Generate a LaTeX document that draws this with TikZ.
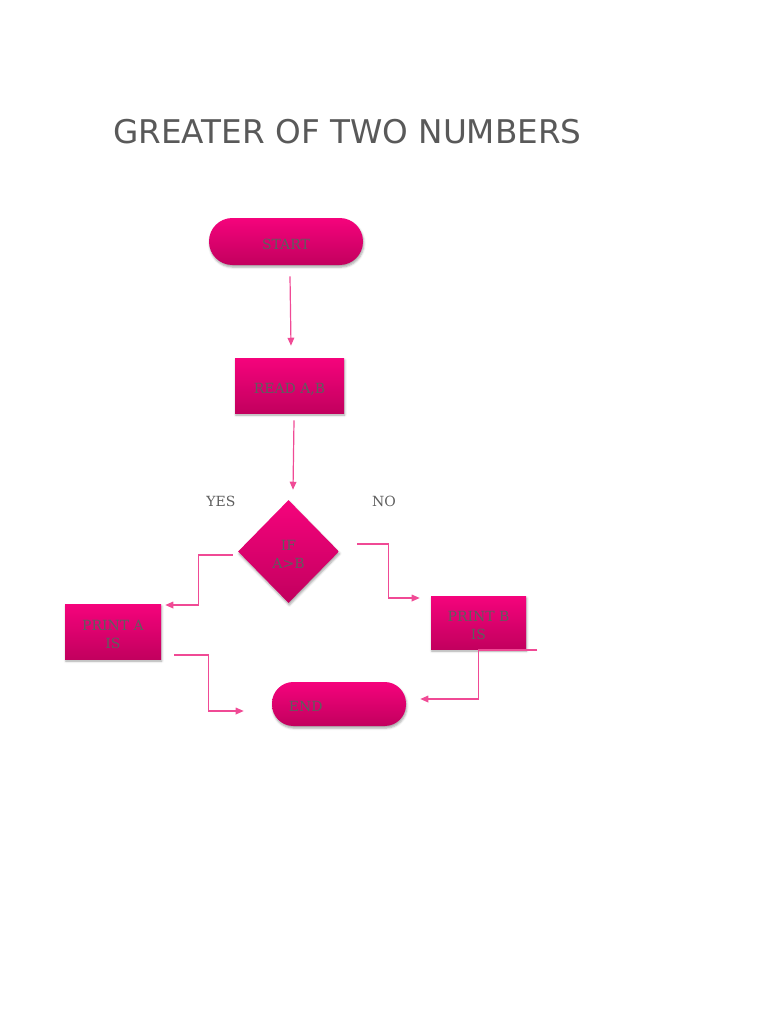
\documentclass[tikz,border=0pt]{standalone}
\usepackage{fontspec}
\setmainfont{DejaVu Serif}
\newfontfamily\titlefont{DejaVu Sans}
\usetikzlibrary{shapes.geometric,arrows.meta,shadows.blur}
\definecolor{topc}{HTML}{F5037C}
\definecolor{botc}{HTML}{C2005E}
\definecolor{txtc}{HTML}{5E5E5E}
\definecolor{linec}{HTML}{F04A95}
\definecolor{titlec}{HTML}{595959}
\newcommand\lowtext[1]{\raisebox{-3pt}[\height][\depth]{\begin{tabular}{@{}c@{}}#1\end{tabular}}}
\tikzset{
  boxfill/.style={top color=topc, bottom color=botc, draw=none,
    blur shadow={shadow xshift=0.6pt, shadow yshift=-1.6pt, shadow opacity=35, shadow blur radius=1.6pt},
    text=txtc, font=\fontsize{10.5}{13.5}\selectfont, inner sep=0pt},
  procbox/.style={boxfill, rectangle},
  termbox/.style={boxfill, rectangle, rounded corners=16pt},
  decbox/.style={boxfill, diamond, aspect=1},
  conn/.style={draw=linec, line width=0.9pt, -{Triangle[length=6pt,width=5pt]}},
  lbl/.style={text=txtc, font=\fontsize{10.5}{13.5}\selectfont, inner sep=0pt},
}
\begin{document}
\begin{tikzpicture}[x=0.75pt,y=-0.75pt]
\useasboundingbox (0,0) rectangle (768,1024);
\node[anchor=base west, inner sep=0pt, text=titlec, font=\titlefont\fontsize{24.5}{28}\selectfont] (title) at (113,143) {GREATER OF TWO NUMBERS};

\node[termbox, minimum width=115.5pt, minimum height=35.25pt, rounded corners=17.5pt] (start) at (286,241.5) {\lowtext{START}};
\node[procbox, minimum width=81.75pt, minimum height=41.25pt] (read) at (289.5,385.5) {\lowtext{READ A,B}};
\node[decbox, minimum width=75.75pt, minimum height=77.25pt] (dec) at (288.5,551.5) {\lowtext{IF\\A>B}};
\node[procbox, minimum width=72pt, minimum height=41.25pt] (printa) at (113,631.5) {\lowtext{PRINT A\\IS}};
\node[procbox, minimum width=71.25pt, minimum height=39.75pt] (printb) at (478.5,622.5) {\lowtext{PRINT B\\IS}};
\node[termbox, minimum width=100.5pt, minimum height=33pt] (end) at (339,704) {\lowtext{END}\hspace*{50pt}};

\node[lbl] (yes) at (221,501) {YES};
\node[lbl] (no) at (384,501) {NO};

\draw[conn] ([shift={(4,11)}]start.south) -- ([shift={(1.5,-12)}]read.north);
\draw[conn] ([shift={(4.5,7)}]read.south) -- ([shift={(4.5,-10)}]dec.north);
\draw[conn] ([shift={(-5,3.5)}]dec.west) -- ++(-34,0) |- ([shift={(4,-26.5)}]printa.east);
\draw[conn] ([shift={(13,23.5)}]printa.east) -- ++(34,0) |- ([shift={(-28,7)}]end.west);
\draw[conn] ([shift={(18,-7.5)}]dec.east) -- ++(31,0) |- ([shift={(-11,-24.5)}]printb.west);
\draw[conn] ([shift={(11,27.5)}]printb.east) -- ([shift={(0,27.5)}]printb.center) |- ([shift={(14,-5)}]end.east);
\end{tikzpicture}
\end{document}
